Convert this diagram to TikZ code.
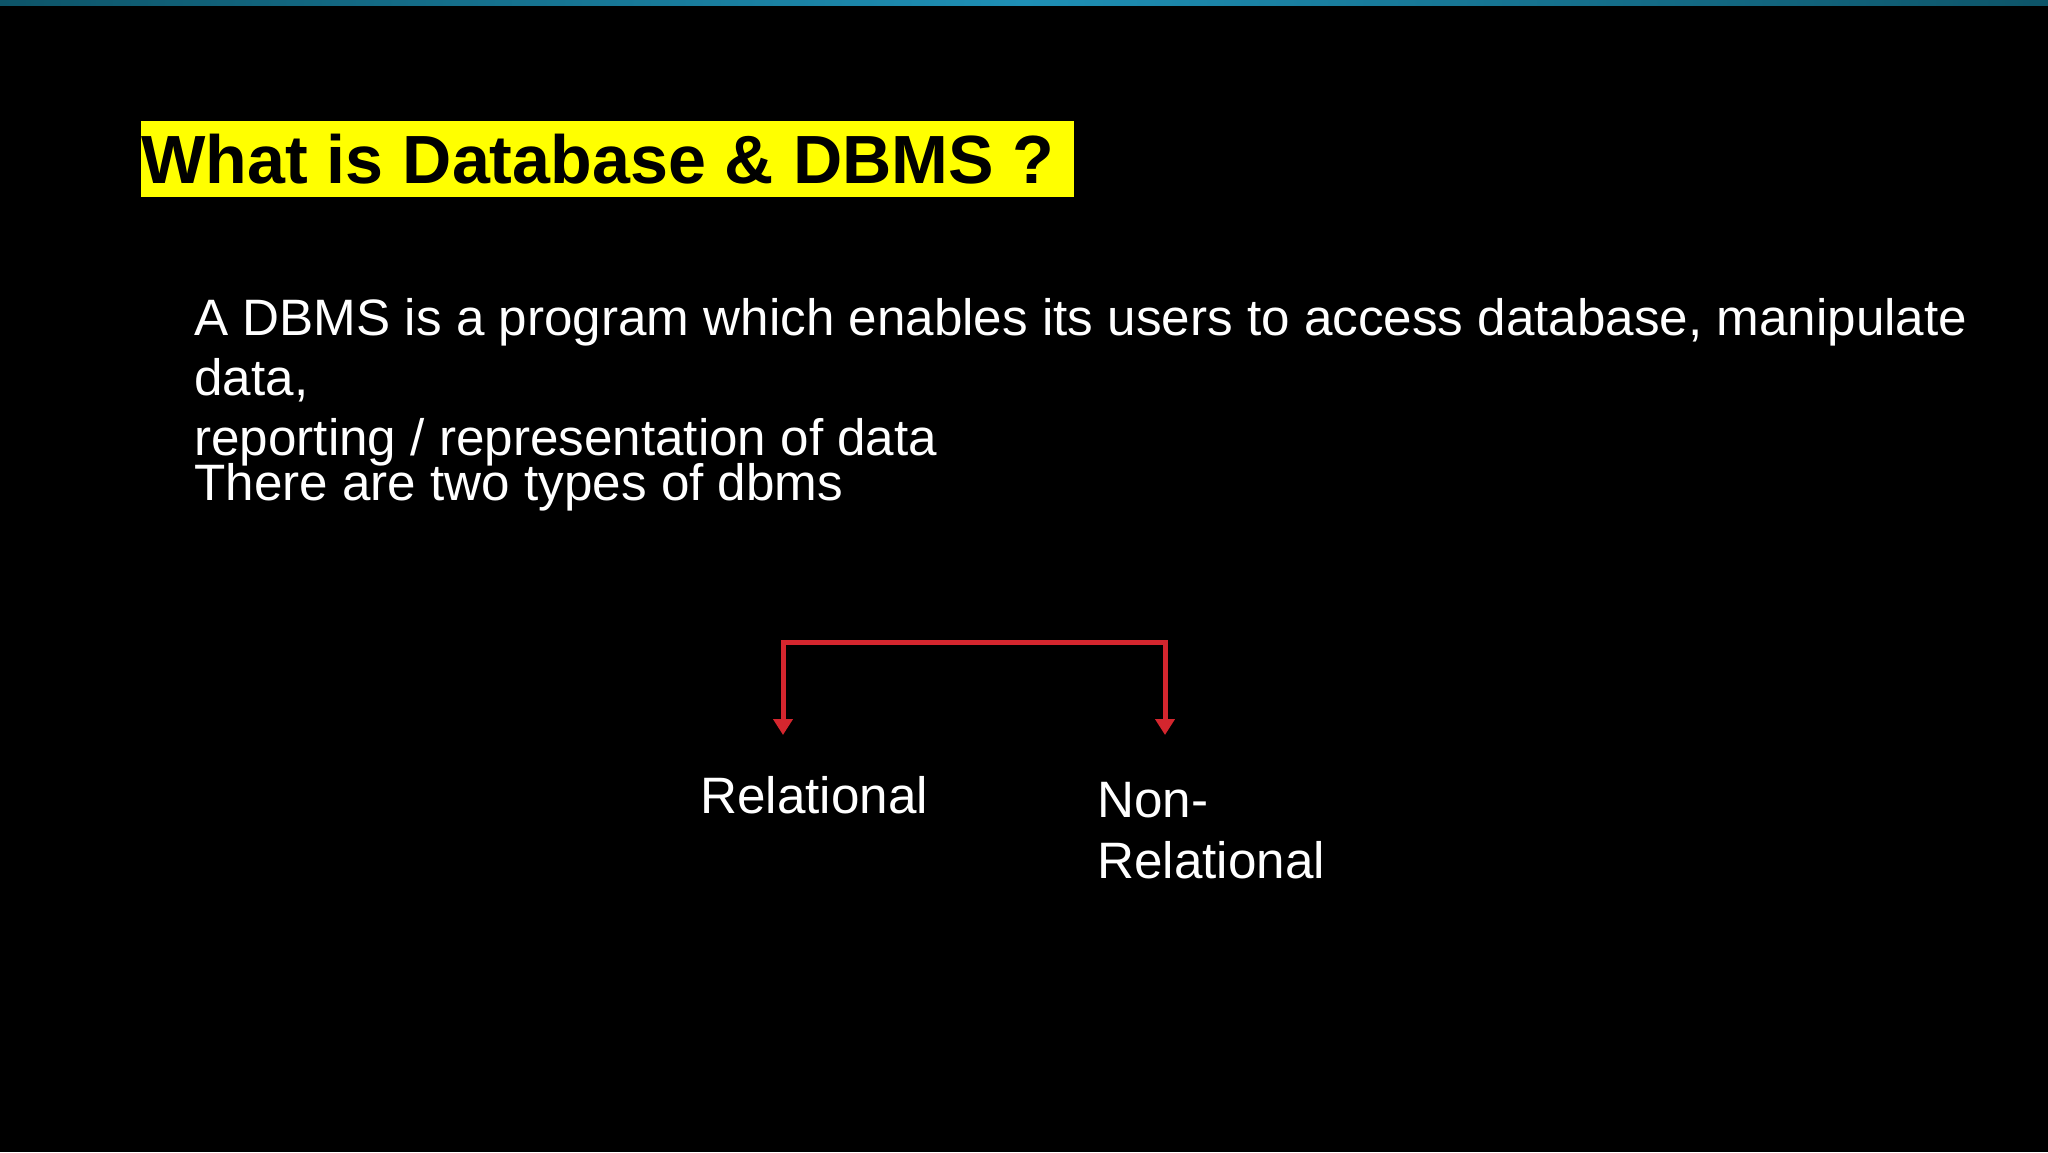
\documentclass[tikz,border=0pt]{standalone}
\usepackage{fontspec}
\setmainfont{Liberation Sans}
\usetikzlibrary{arrows.meta}
\definecolor{arrred}{HTML}{D4262E}
\definecolor{stripdark}{HTML}{0D5468}
\definecolor{striplight}{HTML}{1E8FB5}
\definecolor{titleyellow}{HTML}{FFFF00}
\begin{document}
\begin{tikzpicture}[x=0.5pt,y=-0.5pt,
  bodytxt/.style={text=white,inner sep=0pt,anchor=base west,font=\fontsize{25.6}{30}\selectfont},
  titletxt/.style={text=black,inner sep=0pt,anchor=base west,font=\bfseries\fontsize{34.1}{40}\selectfont},
  redconn/.style={draw=arrred,line width=2.5pt,line join=miter,{Triangle[length=8pt,width=9.5pt]}-{Triangle[length=8pt,width=9.5pt]}}]
\fill[black] (0,0) rectangle (2048,1152);
\useasboundingbox (0,0) rectangle (2048,1152);
\shade[left color=stripdark,right color=stripdark,middle color=striplight] (0,0) rectangle (2048,5);
\fill[titleyellow] (141,121) rectangle (1074,197);
\node[titletxt] (title) at (141,183) {What is Database \& DBMS ?};
\node[bodytxt] (line1) at (194,335) {A DBMS is a program which enables its users to access database, manipulate};
\node[bodytxt] (line2) at (194,395) {data,};
\node[bodytxt] (line3) at (194,455) {reporting / representation of data};
\node[bodytxt] (line4) at (194,500) {There are two types of dbms};
\node[bodytxt] (rel) at (700,813) {Relational};
\node[bodytxt] (nonrelA) at (1097,817) {Non-};
\node[bodytxt] (nonrelB) at (1097,878) {Relational};
\coordinate (tipL) at (783,735);
\coordinate (jL) at (783,642);
\coordinate (jR) at (1165,642);
\coordinate (tipR) at (1165,735);
\draw[redconn] (tipL) -- (jL) -- (jR) -- (tipR);
\end{tikzpicture}
\end{document}
